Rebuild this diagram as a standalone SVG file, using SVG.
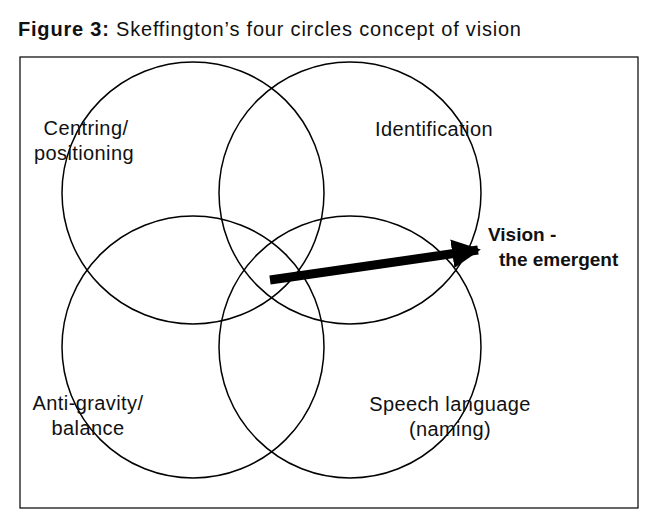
<svg xmlns="http://www.w3.org/2000/svg" width="658" height="531" viewBox="0 0 658 531">
<style>
.c{fill:none;stroke:#000;stroke-width:1.5}
.t{font-family:"Liberation Sans",Arial,sans-serif;font-size:20px;letter-spacing:0.4px;fill:#111}
.b{font-weight:bold}
</style>
<defs><marker id="ah" viewBox="0 0 10 10" refX="9" refY="5" markerWidth="3.2" markerHeight="3.2" orient="auto" markerUnits="strokeWidth"><path d="M0,0 L10,5 L0,10 z" fill="#000"/></marker></defs>
<rect width="658" height="531" fill="#fff"/>
<text class="t" x="18" y="36" style="letter-spacing:0.8px"><tspan class="b">Figure 3:</tspan> Skeffington’s four circles concept of vision</text>
<rect x="20" y="57" width="618" height="451" fill="none" stroke="#000" stroke-width="1.2"/>
<g id="centring"><circle class="c" cx="193" cy="193" r="131"/><text class="t" text-anchor="middle"><tspan x="86" y="135">Centring/</tspan><tspan x="84" y="160">positioning</tspan></text></g>
<g id="identification"><circle class="c" cx="350" cy="193" r="131"/><text class="t" x="434" y="136" text-anchor="middle">Identification</text></g>
<g id="antigravity"><circle class="c" cx="193" cy="347" r="131"/><text class="t" text-anchor="middle"><tspan x="88" y="410">Anti-gravity/</tspan><tspan x="88" y="435">balance</tspan></text></g>
<g id="speech"><circle class="c" cx="350" cy="347" r="131"/><text class="t" text-anchor="middle"><tspan x="450" y="411">Speech language</tspan><tspan x="450" y="436">(naming)</tspan></text></g>
<g id="connectors"><line x1="270" y1="280" x2="478" y2="250" stroke="#000" stroke-width="9" marker-end="url(#ah)"/></g>
<g id="vision"><text class="t b" style="font-size:19px;letter-spacing:0"><tspan x="488" y="241">Vision -</tspan><tspan x="499" y="266">the emergent</tspan></text></g>
</svg>
